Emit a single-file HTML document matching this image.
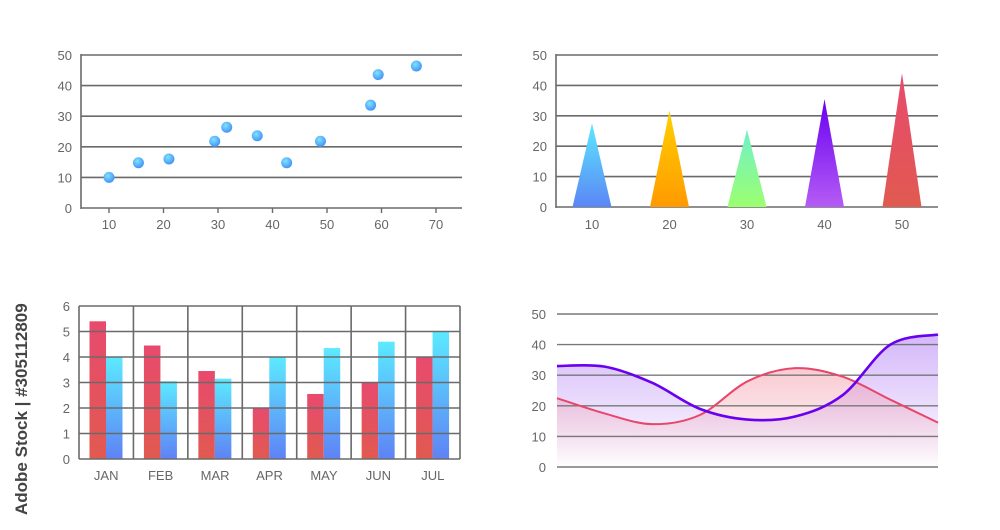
<!DOCTYPE html>
<html><head><meta charset="utf-8">
<style>
html,body{margin:0;padding:0;background:#fff;width:1000px;height:530px;overflow:hidden}
svg{display:block}
text{font-family:"Liberation Sans",sans-serif;fill:#666;font-size:13px}
</style></head>
<body>
<svg id="root" width="1000" height="530">
<defs>
<radialGradient id="dotG" cx="0.4" cy="0.35" r="0.7"><stop offset="0" stop-color="#7fe3ff"/><stop offset="1" stop-color="#3f8ef5"/></radialGradient>
<linearGradient id="cBlue" x1="0" y1="0" x2="0" y2="1"><stop offset="0" stop-color="#5ce8ff"/><stop offset="1" stop-color="#5b86f5"/></linearGradient>
<linearGradient id="cOrange" x1="0" y1="0" x2="0" y2="1"><stop offset="0" stop-color="#ffd000"/><stop offset="1" stop-color="#ff9a00"/></linearGradient>
<linearGradient id="cGreen" x1="0" y1="0" x2="0" y2="1"><stop offset="0" stop-color="#6ff0c8"/><stop offset="1" stop-color="#9cff70"/></linearGradient>
<linearGradient id="cPurple" x1="0" y1="0" x2="0" y2="1"><stop offset="0" stop-color="#6a00f0"/><stop offset="1" stop-color="#b45cf5"/></linearGradient>
<linearGradient id="cRed" x1="0" y1="0" x2="0" y2="1"><stop offset="0" stop-color="#e84a6e"/><stop offset="1" stop-color="#e05a50"/></linearGradient>
<linearGradient id="bRed" x1="0" y1="0" x2="0" y2="1"><stop offset="0" stop-color="#e84a6e"/><stop offset="1" stop-color="#e05a50"/></linearGradient>
<linearGradient id="bBlue" x1="0" y1="0" x2="0" y2="1"><stop offset="0" stop-color="#5ceaff"/><stop offset="1" stop-color="#5e82f5"/></linearGradient>
<linearGradient id="aPurple" x1="0" y1="0" x2="0" y2="1"><stop offset="0" stop-color="#b07cf5" stop-opacity="0.55"/><stop offset="1" stop-color="#b07cf5" stop-opacity="0"/></linearGradient>
<linearGradient id="aRed" x1="0" y1="0" x2="0" y2="1"><stop offset="0" stop-color="#f08a9a" stop-opacity="0.45"/><stop offset="1" stop-color="#f08a9a" stop-opacity="0"/></linearGradient>
</defs>
<text x="0" y="0" transform="translate(27,515) rotate(-90)" style="font-size:17px;font-weight:bold;fill:#444">Adobe Stock | #305112809</text>
</svg>
<script>
// Scatter data
const scatterX=[10,15.4,21,29.4,31.6,37.2,42.6,48.8,58,59.4,66.4];
const scatterY=[10,14.8,16,21.8,26.4,23.6,14.8,21.8,33.6,43.6,46.4];
const scatterXTicks=[10,20,30,40,50,60,70];
const scatterYTicks=[0,10,20,30,40,50];
// Cone data
const coneCats=[10,20,30,40,50];
const coneVals=[27.6,31.7,25.5,35.5,44];
const coneFills=['cBlue','cOrange','cGreen','cPurple','cRed'];
const coneYTicks=[0,10,20,30,40,50];
// Bar data
const barCats=['JAN','FEB','MAR','APR','MAY','JUN','JUL'];
const barRed=[5.4,4.45,3.45,2,2.55,3,4];
const barBlue=[4,3.05,3.15,4,4.35,4.6,5];
const barYTicks=[0,1,2,3,4,5,6];
// Line data
const lineXs=[0,1,2,3,4,5,6,7,8];
const linePurple=[33,32.8,27.5,19,15.5,16.5,23.5,40,43.3];
const lineRed=[22.5,17.5,14,17,28,32.3,29.5,22,14.5];
const lineYTicks=[0,10,20,30,40,50];

const NS='http://www.w3.org/2000/svg';
const root=document.getElementById('root');
function mk(tag,attrs,parent){const e=document.createElementNS(NS,tag);for(const k in attrs)e.setAttribute(k,attrs[k]);(parent||root).appendChild(e);return e;}
function txt(x,y,s,anchor,parent){const t=mk('text',{x:x,y:y,'text-anchor':anchor||'middle'},parent);t.textContent=s;return t;}
const grid='#6a6a6a';

// ---- Scatter ----
{
const g=mk('g',{});


const sx=v=>54.5+v*5.45, sy=v=>208-v*3.06;
scatterYTicks.forEach(v=>{
 const l=mk('line',{x1:81,x2:462,y1:sy(v),y2:sy(v),stroke:grid,'stroke-width':1.6},g);
 
 
 const t=txt(72,sy(v)+5,v,'end',g);
 
 
});
mk('line',{x1:81,x2:81,y1:54,y2:209,stroke:grid,'stroke-width':1.6},g);
scatterXTicks.forEach(v=>{
 mk('line',{x1:sx(v),x2:sx(v),y1:208,y2:213,stroke:grid,'stroke-width':1.4},g);
 const t=txt(sx(v),229,v,'middle',g);
 
 
});
scatterX.forEach((x,i)=>{
 const c=mk('circle',{cx:sx(x),cy:sy(scatterY[i]),r:5.5,fill:'url(#dotG)'},g);
 
 
});
}
// ---- Cones ----
{
const g=mk('g',{});


const sx=v=>514.5+v*7.75, sy=v=>207-v*3.04;
coneYTicks.forEach(v=>{
 mk('line',{x1:556,x2:938,y1:sy(v),y2:sy(v),stroke:grid,'stroke-width':1.6},g);
 const t=txt(547,sy(v)+5,v,'end',g);
 
 
});
mk('line',{x1:556,x2:556,y1:54,y2:208,stroke:grid,'stroke-width':1.6},g);
coneCats.forEach((c,i)=>{
 const x=sx(c);
 const p=mk('polygon',{points:`${x-19.5},${sy(0)} ${x+19.5},${sy(0)} ${x},${sy(coneVals[i])}`,fill:`url(#${coneFills[i]})`},g);
 
 
 const t=txt(x,229,c,'middle',g);
 
 
});
}
// ---- Bars ----
{
const g=mk('g',{});


const L=79,R=460,bw=(R-L)/barCats.length, sy=v=>459-v*25.5;
barCats.forEach((c,i)=>{
 const x0=L+i*bw;
 const r=mk('rect',{x:x0+10.5,y:sy(barRed[i]),width:16.5,height:sy(0)-sy(barRed[i]),fill:'url(#bRed)'},g);
 
 
 const b=mk('rect',{x:x0+27,y:sy(barBlue[i]),width:16.5,height:sy(0)-sy(barBlue[i]),fill:'url(#bBlue)'},g);
 
 
 const t=txt(x0+bw/2,480,c,'middle',g);
 
 
});
barYTicks.forEach(v=>{
 mk('line',{x1:L,x2:R,y1:sy(v),y2:sy(v),stroke:grid,'stroke-width':1.6},g);
 const t=txt(70,sy(v)+5,v,'end',g);
 
 
});
for(let i=0;i<=barCats.length;i++){mk('line',{x1:L+i*bw,x2:L+i*bw,y1:sy(6),y2:sy(0),stroke:grid,'stroke-width':1.6},g);}
}
// ---- Lines ----
{
const g=mk('g',{});


const L=557,R=938, sx=v=>L+v*(R-L)/8, sy=v=>467-v*3.06;
function pathFor(vals){
 const pts=lineXs.map((x,i)=>[sx(x),sy(vals[i])]);
 let d=`M${pts[0][0]},${pts[0][1]}`;
 for(let i=0;i<pts.length-1;i++){
  const p0=pts[Math.max(0,i-1)],p1=pts[i],p2=pts[i+1],p3=pts[Math.min(pts.length-1,i+2)];
  const c1=[p1[0]+(p2[0]-p0[0])/6,p1[1]+(p2[1]-p0[1])/6];
  const c2=[p2[0]-(p3[0]-p1[0])/6,p2[1]-(p3[1]-p1[1])/6];
  d+=` C${c1[0]},${c1[1]} ${c2[0]},${c2[1]} ${p2[0]},${p2[1]}`;
 }
 return d;
}
const area=(vals)=>pathFor(vals)+` L${sx(8)},${sy(0)} L${sx(0)},${sy(0)} Z`;
const ap=mk('path',{d:area(linePurple),fill:'url(#aPurple)'},g);


const ar=mk('path',{d:area(lineRed),fill:'url(#aRed)'},g);


lineYTicks.forEach(v=>{
 mk('line',{x1:L,x2:R,y1:sy(v),y2:sy(v),stroke:grid,'stroke-width':1.4,'stroke-opacity':0.9},g);
 const t=txt(546,sy(v)+5,v,'end',g);
 
 
});
const lr=mk('path',{d:pathFor(lineRed),fill:'none',stroke:'#e8466a','stroke-width':2},g);


const lp=mk('path',{d:pathFor(linePurple),fill:'none',stroke:'#6a00f0','stroke-width':2.6},g);


}
</script>
</body></html>
